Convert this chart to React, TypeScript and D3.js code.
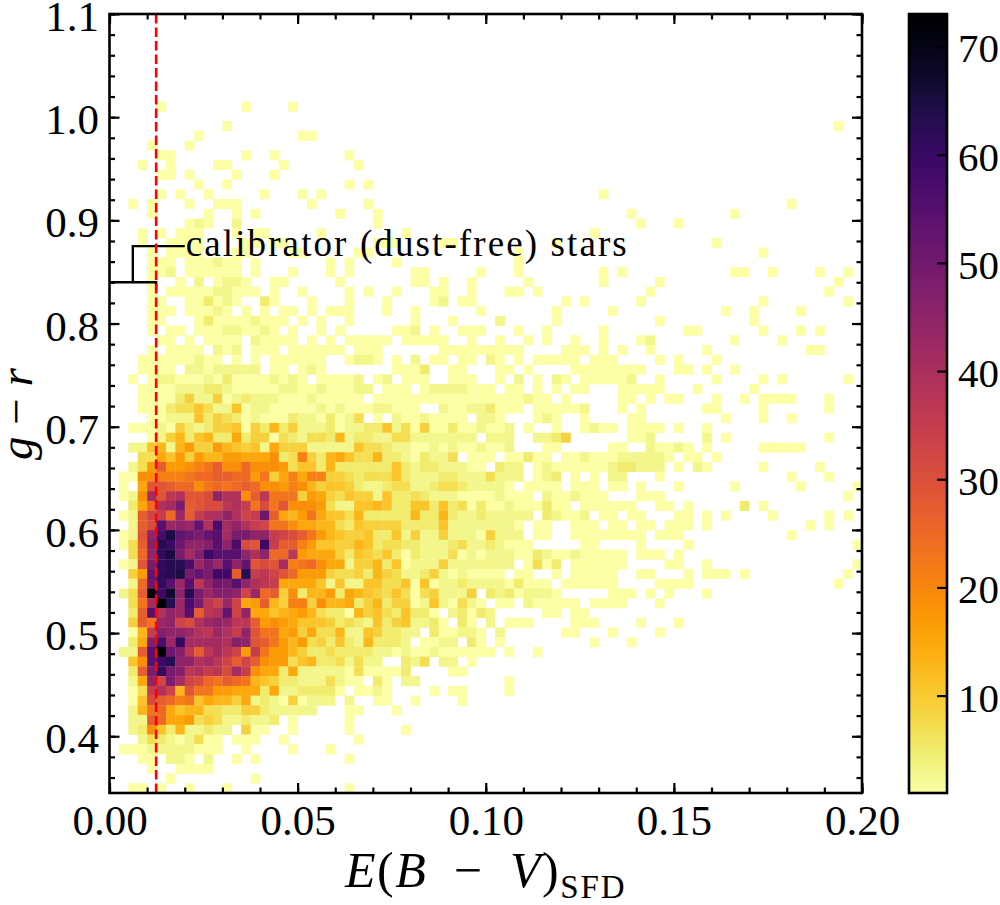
import { useEffect, useRef } from 'react'
import * as d3 from 'd3'

const svgWidth = 1000
const svgHeight = 905
const margin = { top: 14, left: 109.5, right: 862, bottom: 793 }
const barBox = { left: 909, right: 947 }

const xDomain = [0, 0.2]
const yDomain = [0.345, 1.1]
const colorDomain = [1, 73]
const nBins = 80

const xMajor = [0, 0.05, 0.1, 0.15, 0.2]
const xMinor = d3.range(0, 21).map(d => d / 100)
const yMajor = [0.4, 0.5, 0.6, 0.7, 0.8, 0.9, 1.0, 1.1]
const yMinor = d3.range(18, 56).map(d => d / 50)
const barTicks = [10, 20, 30, 40, 50, 60, 70]

const cutLine = 0.0124
const bracketY = 0.84
const bracketMid = 0.0062
const labelY = 0.875
const labelX = 0.02

// counts per cell, top row first, grouped in tens of columns
// '.' empty, '#' 73, otherwise base 36 digit d meaning 2d - 1 stars
const rows = [
  '', '', '', '', '', '', '', '', '',
  '.....1.... ....1....1',
  '',
  '.......... ..1....... .......... .......... .......... .......... .......... .......1..',
  '.........1 .......... 11........',
  '....1...1.',
  '.....11... ....1..1.. .....1....',
  '...1..1... .11.....1. ......1...',
  '.....11.1. ...1...1..',
  '.........1 ..1....... .....1.1.. .......... .......... .......... ..........',
  '.....1.1.. 1.....1... 1.1....... .......... .......... ..1.......',
  '..1.1...1. .111...... .1.....1.. .......... .......... .......... .......... ..1.......',
  '....1..... 1..1.1.... ....1...1. .......... .......... .....1.... ......1...',
  '........12 1..2...... ........1. .......... .......... ......1... 1.........',
  '...1.1.111 ...1.11... ..1....... .1........ .......... .1........',
  '...1..1111 ....11.11. ........11 1....11... .......1.. .......... ....1.....',
  '....1.1111 ...11....1 1.....11.. .......... ...1...... .......... .........1',
  '....111.11 1211.1.... ...1.1.... 1......... ...1......',
  '....112.11 1111.1...1 ...1.1.... ..11.....1 ...1...... ..1.1..... ......11.. 1....1..1.',
  '....1..1.2 .1221..11. ....1..... ..11.1..1. ....1..... ..1.....1. .......... .......1..',
  '....1.1111 122111.1.. 1....1.1.. 1...11..1. ..11.1.... .......1.. .......... ......1...',
  '....11..11 3121..31.. .1...1...1 ....12.11. ........1. 1.....1... .........1 ........1.',
  '....111.11 121.1.1.11 .1.111...1 ..1......1 .......1.. ...1...... .....1..1. ...1......',
  '....11...1 311112111. 1.1..1.... ..1...1... .2.....1.. ........1. ........1.',
  '....1.11.1 11221121.1 ..1.1..... 112.1..111 ...1..1... ..1....... .11......1 ...1.1....',
  '.....11.1. 1111.21111 .1.1.11111 .11111..1. .1..1.1..1 ..1...12.. ......1... .1........',
  '....1.1111 .212.111.1 11111.111. .....11111 1111....11 1.1.1..1.. ...1...... ....11....',
  '...1111112 11.1.1.111 111..1221. 1.2.11.11. 21.1.11111 .111....1. 1...1.....',
  '...1111.22 122222.11. 121....... 1113..11.. .11.1....1 1111111... 11.1..1...',
  '..1.122111 2131111212 1.11112.12 .111..111. .1.2.1.21. 111112..1. ....1....1 .1......1.',
  '...1111222 3321111122 11211122.1 11.1222211 1.11.1.1.1 1...11111. ..1.....1.',
  '...1111352 2512322211 1211111.11 1111111111 1111211.1. ....11.1.1 1...1..1.1 111...1...',
  '...1113446 4226122111 1121211122 111..21122 3111.11111 2...1.1... ...11....1 ......1...',
  '....112226 3543121113 2213124.1. 21121111.2 21...121.. 1....11... .....1...1 ..1.......',
  '..11121532 3556153735 2223122336 2415113112 112.1..1.. 1211.1111. 1..1......',
  '....125736 7338355143 2443723322 442222222. 222..2235. .....112.. ...2.1.... ......1...',
  '..22672795 5976562855 5222226443 2211212112 112...11.. ...11..211 21.1.....1 1111......',
  '...4486959 7799888a34 b537864473 3213224.11 1.11311.11 2111222221 .11.1.....',
  '..249e99ab ceaadaaa94 6637333333 6323322211 .322.12111 111233222. 1.21.....1 .....1....',
  '.11aabbbcd deedd9c58b 8bb5543444 6322233222 4222.123.1 .1.22...1. .......... ..1...1...',
  '.1.8ffedda cdcdedaa9b a756653223 4422344322 221.1111.1 11.11.1... 1.....1... ...1.....1',
  '.12alfjkff gnkkaejccc 5985465526 3343222111 12111.2112 111...111. .......... ........1.',
  '..38dklpef ggjkicgcfa aa94226676 3366363413 112111311. 111111..11 .1.....3.1',
  '.12ehidmei kknkhiqe87 9c86647333 3373373223 22222.3211 2.11.11... 11.1.1.... 1.....1.1.',
  '..2egsmnmr ktlnkihcca 8877436555 5333362222 2221.11..1 11.11.11.1 11.1...... ....1.1...',
  '.12fntxrqp rslppnnihg ec97655633 6252252221 5222.11..1 1111111.11 1......... ..1.......',
  '.14eowuqnn osntgfuiee b966557634 4332223422 32111..... 11....1... .1........ .........1',
  '..4dnvxplo usssnknddj 9888536546 3132224121 2221132112 11111.111. 1.........',
  '.12fpvwwtm pmsnrfgflb cda8825573 6122252222 222.1413.1 11111....1 1..1...... .........1',
  '..59rvwxpr puuewijhfd 9995445375 4223521211 11.11..1.1 1111..11.. .1.111.1.. ........1.',
  '..2dqvsmsj nqpsnkji88 8862622664 4616122322 2213111.11 1111....11 11........ .......1..',
  '.24e#uynwp moonhmde5a 3779387654 641452225. 32312221.. ...111.1.1 ...1......',
  '..4cl#wmtp jhmh89e75b b5a7783573 5512621421 .11.211111 .1111...1.',
  '..3esknmse jkrhn88678 9743317564 36331.2313 2.....11.1 1.........',
  '..5ecmnhgk mnmjje9a98 6665343263 562231.31. 2.111....1 11....1... 1.........',
  '..17ionnmk jmkinfcc89 5844722653 322.311221 .2......11 ...1....1.',
  '..38otmvll llkonfec97 9453632733 32.1122.31 .1........ .1...1....',
  '.22es#qoje jljh9ic997 5334333322 1211211111 1.1..1....',
  '..6asuwnnk ljhehea994 673342422. .324.22.1.',
  '..3epvpojk ijglia8838 2222214111 13....11..',
  '..28nhplhg dcedc76533 2224211.31 .22....... ..1.......',
  '..14ikh7fc c998883822 33331.1121 ....1.11.. ..1.......',
  '..16gedbc6 8775823215 1222.2..11 ..1....1..',
  '..27cd8677 4433553222 22...11... 1.........',
  '..22ed8894 54223223.1 .....1....',
  '..23a63722 322.511..1 .....1.... .1........',
  '...2432124 11.111..1. ......1...',
  '.111222221 11..1....1 ...1......',
  '...11.221. 2..1.1.... .....1....',
  '....1..111 1.........',
  '......1... .....1....',
  '..11.1..1. ..1....... .....1....',
]

const decode = (c: string) => (c === '#' ? 73 : parseInt(c, 36) * 2 - 1)

const ink = '#000'
const serif = '"Liberation Serif", serif'

export default function App() {
  const svgRef = useRef<SVGSVGElement>(null)

  useEffect(() => {
    svgRef.current.innerHTML = ''

    const x = d3.scaleLinear().domain(xDomain).range([margin.left, margin.right])
    const y = d3.scaleLinear().domain(yDomain).range([margin.bottom, margin.top])
    const bar = d3.scaleLinear().domain(colorDomain).range([margin.bottom, margin.top])
    const color = d3.scaleSequential((t: number) => d3.interpolateInferno(1 - t)).domain(colorDomain)

    const xStep = (xDomain[1] - xDomain[0]) / nBins
    const yStep = (yDomain[1] - yDomain[0]) / nBins

    const cells = rows.flatMap((row, r) =>
      row.replace(/ /g, '').split('').map((c, col) => ({ c, col, r })).filter(d => d.c !== '.')
    )

    const svg = d3.select(svgRef.current)

    svg.append('g')
      .classed('cells', true)
      .selectAll('rect')
      .data(cells)
      .enter().append('rect')
        .attr('x', d => x(d.col * xStep))
        .attr('y', d => y(yDomain[1] - d.r * yStep))
        .attr('width', x(xStep) - x(0) + 0.3)
        .attr('height', y(0.345) - y(0.345 + yStep) + 0.3)
        .attr('fill', d => color(decode(d.c)))

    // calibrator bracket
    const bracket = d3.line<number[]>().x(d => x(d[0])).y(d => y(d[1]))
    svg.append('path')
      .attr('d', bracket([[0, bracketY], [cutLine, bracketY], [cutLine, bracketY - 0.008]]))
      .attr('fill', 'none').attr('stroke', ink).attr('stroke-width', 2.4)
    svg.append('path')
      .attr('d', bracket([[bracketMid, bracketY], [bracketMid, labelY], [labelX, labelY]]))
      .attr('fill', 'none').attr('stroke', ink).attr('stroke-width', 2.4)

    svg.append('line')
      .attr('x1', x(cutLine)).attr('x2', x(cutLine))
      .attr('y1', margin.top).attr('y2', margin.bottom)
      .attr('stroke', '#ff0000').attr('stroke-width', 2.6).attr('stroke-dasharray', '9.5 4')

    svg.append('text')
      .attr('x', x(labelX) + 1)
      .attr('y', y(labelY) + 10)
      .attr('font-family', serif)
      .attr('font-size', 37)
      .attr('textLength', 441)
      .attr('lengthAdjust', 'spacing')
      .text('calibrator (dust-free) stars')

    const styleAxis = g => g.call(a => a.select('.domain').remove())
      .call(a => a.selectAll('line').attr('stroke', ink).attr('stroke-width', 2.2))
      .call(a => a.selectAll('text').attr('font-family', serif).attr('font-size', 43).attr('fill', ink))

    const noLabel = () => ''

    const xSides: [any, string, boolean][] = [
      [d3.axisBottom, 'translate(0,' + margin.bottom + ')', true],
      [d3.axisTop, 'translate(0,' + margin.top + ')', false],
    ]
    xSides.forEach(([axis, tr, labelled]) => {
      svg.append('g').attr('transform', tr)
        .call(axis(x).tickValues(xMinor).tickSize(-5.5).tickFormat(noLabel))
        .call(styleAxis)
      const major = svg.append('g').attr('transform', tr)
        .call(axis(x).tickValues(xMajor).tickSize(-10).tickFormat(labelled ? d3.format('.2f') : noLabel))
        .call(styleAxis)
      if (labelled) major.selectAll('text').attr('y', 42).attr('dy', 0)
    })

    const ySides: [any, string, boolean][] = [
      [d3.axisLeft, 'translate(' + margin.left + ',0)', true],
      [d3.axisRight, 'translate(' + margin.right + ',0)', false],
    ]
    ySides.forEach(([axis, tr, labelled]) => {
      svg.append('g').attr('transform', tr)
        .call(axis(y).tickValues(yMinor).tickSize(-5.5).tickFormat(noLabel))
        .call(styleAxis)
      const major = svg.append('g').attr('transform', tr)
        .call(axis(y).tickValues(yMajor).tickSize(-10).tickFormat(labelled ? d3.format('.1f') : noLabel))
        .call(styleAxis)
      if (labelled) major.selectAll('text').attr('x', -10.5).attr('dy', 16.5)
    })

    svg.append('rect')
      .attr('x', margin.left).attr('y', margin.top)
      .attr('width', margin.right - margin.left).attr('height', margin.bottom - margin.top)
      .attr('fill', 'none').attr('stroke', ink).attr('stroke-width', 2.6)

    // colorbar
    const steps = d3.range(0, 256).map(i => colorDomain[0] + (colorDomain[1] - colorDomain[0]) * i / 256)
    const stepSize = (colorDomain[1] - colorDomain[0]) / 256
    svg.append('g')
      .attr('shape-rendering', 'crispEdges')
      .selectAll('rect')
      .data(steps)
      .enter().append('rect')
        .attr('x', barBox.left)
        .attr('width', barBox.right - barBox.left)
        .attr('y', d => bar(d + stepSize))
        .attr('height', bar(colorDomain[0]) - bar(colorDomain[0] + stepSize) + 1)
        .attr('fill', d => color(d + stepSize / 2))

    const barAxis = svg.append('g')
      .attr('transform', 'translate(' + barBox.right + ',0)')
      .call(d3.axisRight(bar).tickValues(barTicks).tickSize(-10).tickFormat(d3.format('d')))
      .call(styleAxis)
    barAxis.selectAll('text').attr('x', 11).attr('dy', 15.5).attr('font-size', 41)

    svg.append('rect')
      .attr('x', barBox.left).attr('y', margin.top)
      .attr('width', barBox.right - barBox.left).attr('height', margin.bottom - margin.top)
      .attr('fill', 'none').attr('stroke', ink).attr('stroke-width', 2.6)

    // axis titles
    const xTitle = svg.append('text')
      .attr('x', 345).attr('y', 887)
      .attr('font-family', serif).attr('font-size', 50)
      .attr('letter-spacing', 1.5)
    xTitle.append('tspan').attr('font-style', 'italic').text('E')
    xTitle.append('tspan').text('(')
    xTitle.append('tspan').attr('font-style', 'italic').text('B')
    xTitle.append('tspan').text('\u2002\u2212\u2002')
    xTitle.append('tspan').attr('font-style', 'italic').text('V')
    xTitle.append('tspan').text(')')
    xTitle.append('tspan').attr('font-size', 33).attr('dy', 11).attr('letter-spacing', 2).text('SFD')

    const yTitle = svg.append('text')
      .attr('transform', 'translate(32,414) rotate(-90)')
      .attr('text-anchor', 'middle')
      .attr('font-family', serif).attr('font-size', 47)
    yTitle.append('tspan').attr('font-style', 'italic').text('g')
    yTitle.append('tspan').text(' \u2212 ')
    yTitle.append('tspan').attr('font-style', 'italic').text('r')
  }, [])

  return (
    <svg
      ref={ svgRef }
      width={ svgWidth }
      height={ svgHeight }
      viewBox={ `0 0 ${svgWidth} ${svgHeight}` }
      style={ { position: 'absolute', left: 0, top: 0, display: 'block', background: '#fff' } }
    />
  )
}
